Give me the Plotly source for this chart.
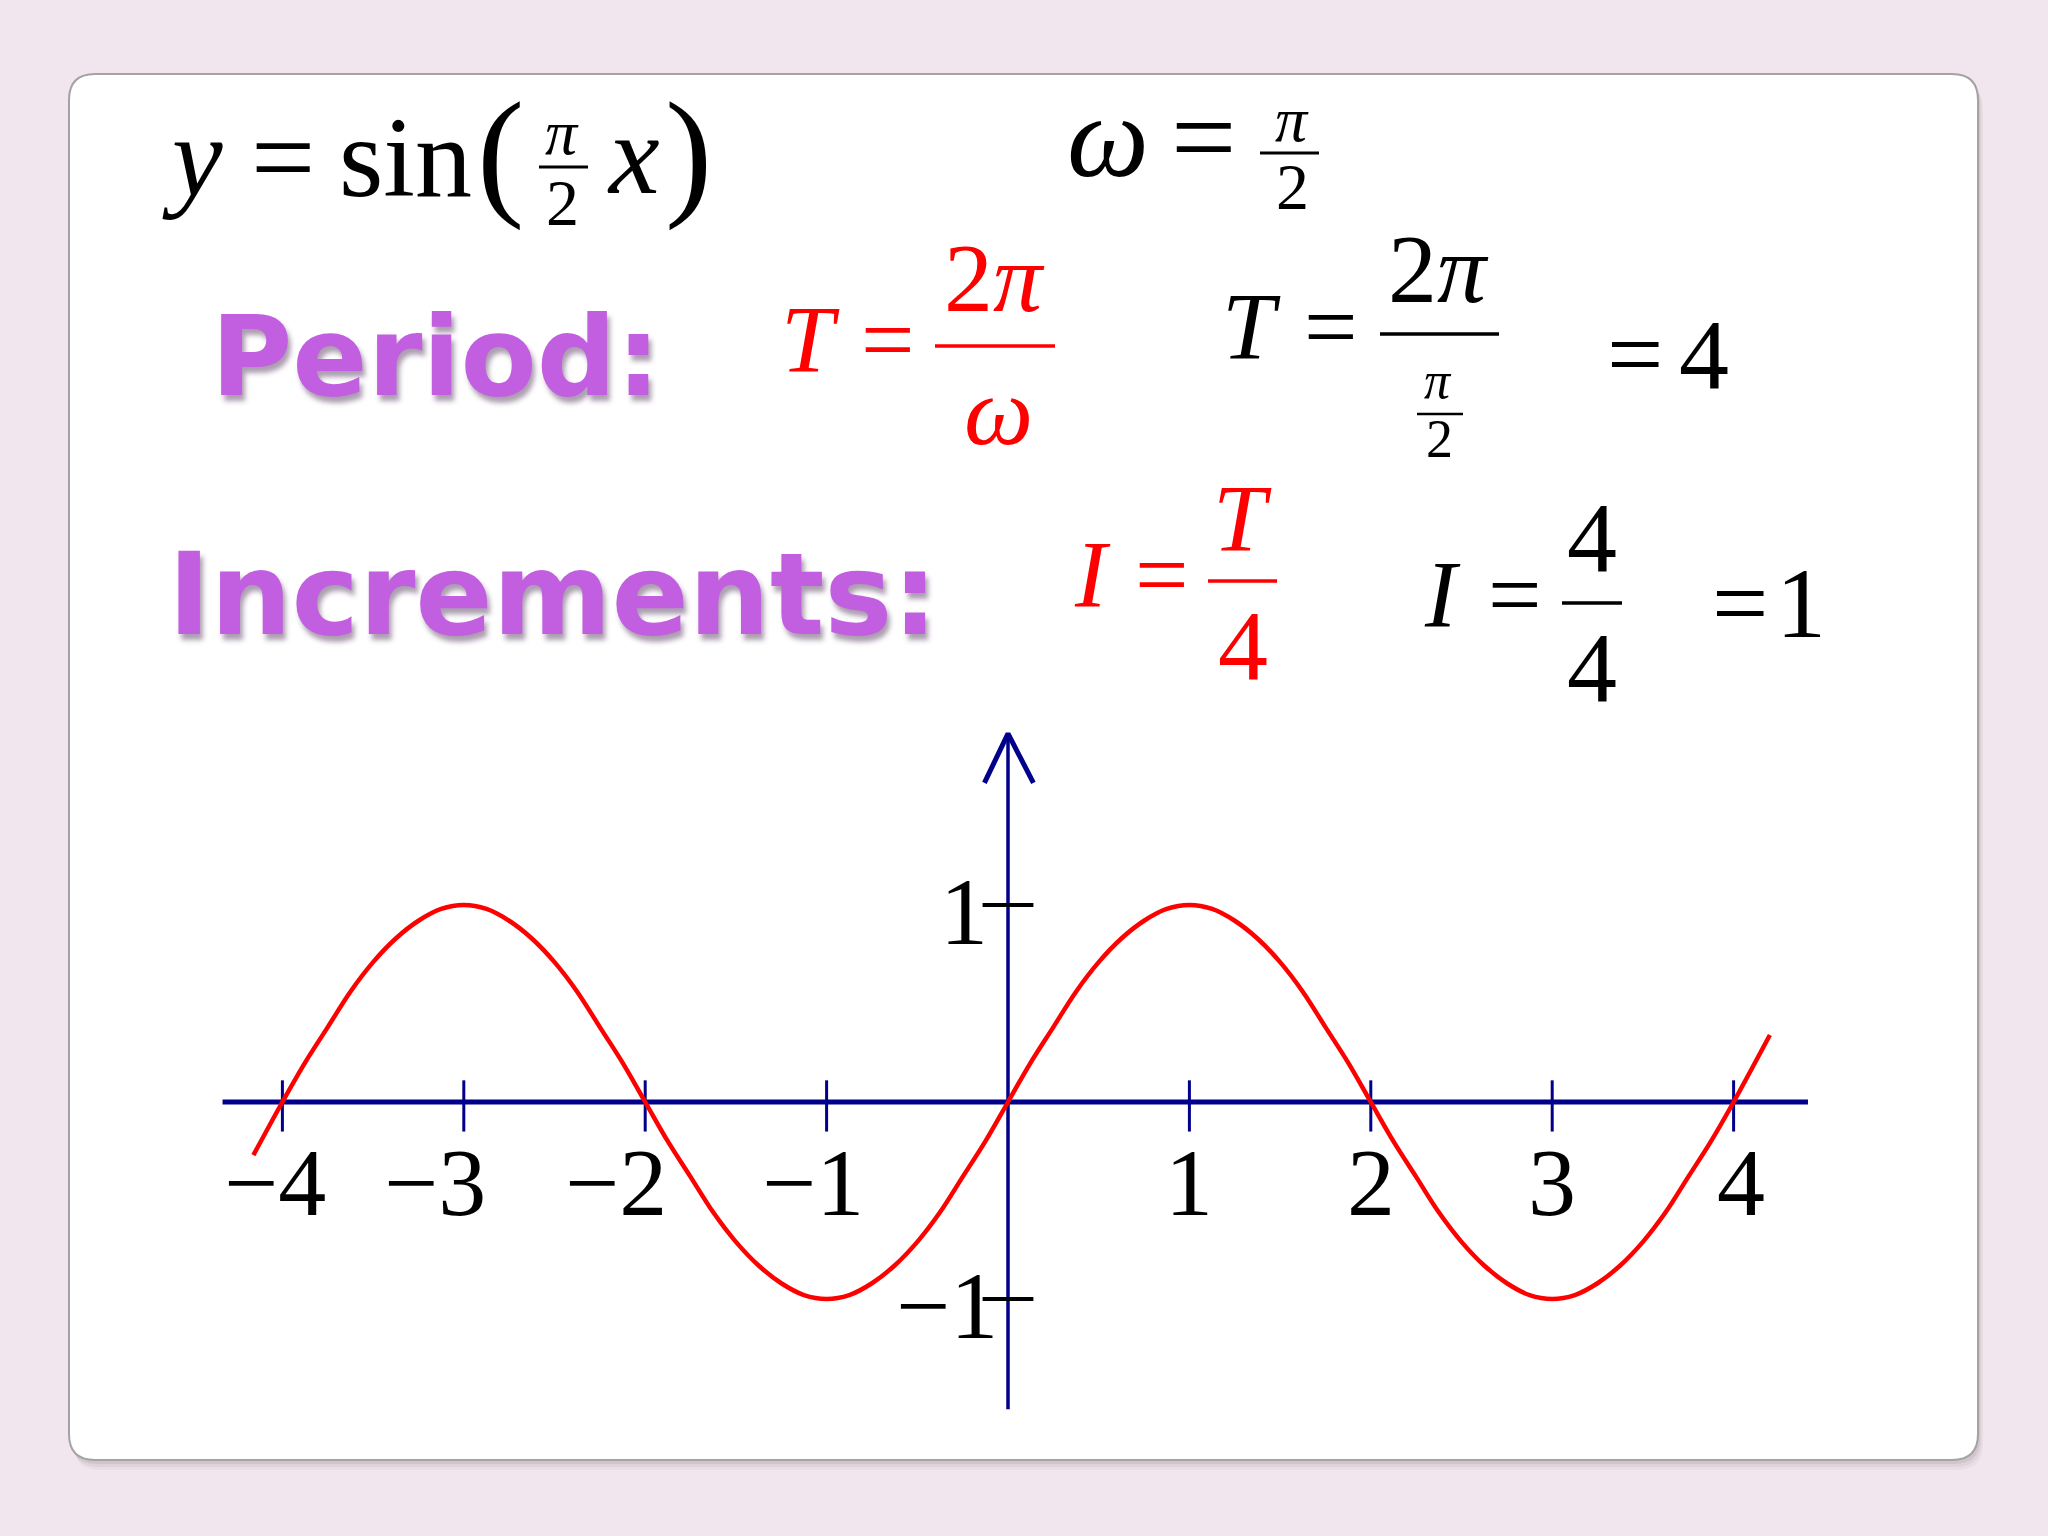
import plotly.graph_objects as go

W, H = 2048, 1536
SERIF = "Liberation Serif"
BOLD_SANS = "DejaVu Sans"
NAVY = "#00008b"
RED = "#ff0000"
PURPLE = "#c15fe0"

# points of y = sin(pi/2 x)
curve_x = [-4.16, -4.0, -3.875, -3.75, -3.625, -3.5, -3.375, -3.25, -3.125, -3.0,
           -2.875, -2.75, -2.625, -2.5, -2.375, -2.25, -2.125, -2.0,
           -1.875, -1.75, -1.625, -1.5, -1.375, -1.25, -1.125, -1.0,
           -0.875, -0.75, -0.625, -0.5, -0.375, -0.25, -0.125, 0.0,
           0.125, 0.25, 0.375, 0.5, 0.625, 0.75, 0.875, 1.0,
           1.125, 1.25, 1.375, 1.5, 1.625, 1.75, 1.875, 2.0,
           2.125, 2.25, 2.375, 2.5, 2.625, 2.75, 2.875, 3.0,
           3.125, 3.25, 3.375, 3.5, 3.625, 3.75, 3.875, 4.0, 4.2]
curve_y = [-0.27, 0.0, 0.2, 0.38, 0.56, 0.71, 0.83, 0.92, 0.98, 1.0,
           0.98, 0.92, 0.83, 0.71, 0.56, 0.38, 0.2, 0.0,
           -0.2, -0.38, -0.56, -0.71, -0.83, -0.92, -0.98, -1.0,
           -0.98, -0.92, -0.83, -0.71, -0.56, -0.38, -0.2, 0.0,
           0.2, 0.38, 0.56, 0.71, 0.83, 0.92, 0.98, 1.0,
           0.98, 0.92, 0.83, 0.71, 0.56, 0.38, 0.2, 0.0,
           -0.2, -0.38, -0.56, -0.71, -0.83, -0.92, -0.98, -1.0,
           -0.98, -0.92, -0.83, -0.71, -0.56, -0.38, -0.2, 0.0, 0.34]

x_ticks = [-4, -3, -2, -1, 1, 2, 3, 4]
x_tick_labels = ["−4", "−3", "−2", "−1", "1", "2", "3", "4"]
y_ticks = [-1, 1]
y_tick_labels = ["−1", "1"]

x_axis_span = [-4.33, 4.41]
y_axis_span = [-1.56, 1.87]
arrow_x = [-0.13, 0.0, 0.14]
arrow_y = [1.62, 1.87, 1.62]


def px(x):
    return x / W


def py(y):
    return 1 - y / H


def txt(s, x, base, size, color="black", family=SERIF, anchor="center", **kw):
    # x = centre (or left edge) in pixels, base = baseline in pixels
    font = dict(size=size, color=color, family=family)
    font.update(kw)
    return dict(text=s, x=px(x), y=py(base - 0.34 * size), xref="paper", yref="paper",
                xanchor=anchor, yanchor="middle", showarrow=False, font=font)


def bar(x0, x1, y, color="black", w=3):
    return dict(type="line", xref="paper", yref="paper", x0=px(x0), x1=px(x1),
                y0=py(y), y1=py(y), line=dict(color=color, width=w))


def rounded(x0, y0, x1, y1, r):
    d = f"M{px(x0 + r)},{py(y0)} L{px(x1 - r)},{py(y0)} Q{px(x1)},{py(y0)} {px(x1)},{py(y0 + r)} "
    d += f"L{px(x1)},{py(y1 - r)} Q{px(x1)},{py(y1)} {px(x1 - r)},{py(y1)} "
    d += f"L{px(x0 + r)},{py(y1)} Q{px(x0)},{py(y1)} {px(x0)},{py(y1 - r)} "
    d += f"L{px(x0)},{py(y0 + r)} Q{px(x0)},{py(y0)} {px(x0 + r)},{py(y0)} Z"
    return d


fig = go.Figure()

# axes
fig.add_trace(go.Scatter(x=x_axis_span, y=[0, 0], mode="lines",
                         line=dict(color=NAVY, width=5)))
fig.add_trace(go.Scatter(x=[0, 0], y=y_axis_span, mode="lines",
                         line=dict(color=NAVY, width=3.5)))
fig.add_trace(go.Scatter(x=arrow_x, y=arrow_y, mode="lines",
                         line=dict(color=NAVY, width=5)))

tx, ty = [], []
for t in x_ticks:
    tx += [t, t, None]
    ty += [0.11, -0.15, None]
fig.add_trace(go.Scatter(x=tx, y=ty, mode="lines", line=dict(color=NAVY, width=3)))

yx, yy = [], []
for t in y_ticks:
    yx += [-0.14, 0.14, None]
    yy += [t, t, None]
fig.add_trace(go.Scatter(x=yx, y=yy, mode="lines", line=dict(color="black", width=4)))

# the sine curve
fig.add_trace(go.Scatter(x=curve_x, y=curve_y, mode="lines",
                         line=dict(color=RED, width=4.5, shape="spline")))

ann = []
# digit of each x label sits a little off the tick on the slide
label_nudge = {-4: 22, -1: 15, 4: 7}
for t, lab in zip(x_ticks, x_tick_labels):
    ann.append(dict(text=lab, x=t, y=0, xref="x", yref="y",
                    xanchor="right" if t < 0 else "center",
                    xshift=(24 if t < 0 else 0) + label_nudge.get(t, 0),
                    yanchor="middle", yshift=-80, showarrow=False,
                    font=dict(size=96, color="black", family=SERIF)))
for t, lab in zip(y_ticks, y_tick_labels):
    ann.append(dict(text=lab, x=0, y=t, xref="x", yref="y",
                    xanchor="right", xshift=-18 if t > 0 else -8,
                    yanchor="middle", yshift=-6, showarrow=False,
                    font=dict(size=96, color="black", family=SERIF)))

# y = sin(pi/2 x)
ann += [
    txt("<i>y</i>", 192, 196, 114),
    txt("=", 283, 196, 114),
    txt("sin", 405, 196, 114),
    txt("(", 500, 200, 142),
    txt("<i>π</i>", 562, 154, 64),
    txt("2", 562, 225, 66),
    txt("<i>x</i>", 633, 193, 114),
    txt(")", 688, 200, 142),
]
# omega = pi/2
ann += [
    txt("<i>ω</i>", 1108, 176, 116),
    txt("=", 1203, 176, 116),
    txt("<i>π</i>", 1292, 141, 64),
    txt("2", 1292, 209, 66),
]

# WordArt-ish headings
shadow = "3px 6px 5px rgba(70,40,80,0.45)"
ann.append(txt("<b>Period:</b>", 209, 394, 111, PURPLE, BOLD_SANS, "left", shadow=shadow))
ann.append(txt("<b>Increments:</b>", 166, 633, 114, PURPLE, BOLD_SANS, "left", shadow=shadow))

# T = 2pi / omega (red)
ann += [
    txt("<i>T</i>", 810, 372, 95, RED),
    txt("=", 888, 372, 95, RED),
    txt("2<i>π</i>", 994, 311, 98, RED),
    txt("<i>ω</i>", 998, 444, 98, RED),
]
# T = 2pi / (pi/2) = 4
ann += [
    txt("<i>T</i>", 1251, 359, 95),
    txt("=", 1331, 359, 95),
    txt("2<i>π</i>", 1438, 302, 98),
    txt("<i>π</i>", 1438, 398, 52),
    txt("2", 1439, 457, 54),
    txt("=", 1635, 388, 100),
    txt("4", 1704, 388, 100),
]
# I = T / 4 (red)
ann += [
    txt("<i>I</i>", 1092, 607, 95, RED),
    txt("=", 1162, 607, 95, RED),
    txt("<i>T</i>", 1242, 551, 95, RED),
    txt("4", 1243, 679, 100, RED),
]
# I = 4 / 4 = 1
ann += [
    txt("<i>I</i>", 1442, 627, 95),
    txt("=", 1515, 627, 95),
    txt("4", 1592, 571, 100),
    txt("4", 1592, 701, 100),
    txt("=", 1740, 637, 100),
    txt("1", 1801, 637, 100),
]

shapes = []
# card shadow + card
for off, op in [(10, 0.05), (7, 0.07), (4, 0.10)]:
    shapes.append(dict(type="path", xref="paper", yref="paper", layer="below",
                       path=rounded(69 + off * 0.5, 74 + off, 1978 + off * 0.5, 1460 + off, 26),
                       fillcolor=f"rgba(90,70,80,{op})", line=dict(width=0)))
shapes.append(dict(type="path", xref="paper", yref="paper", layer="below",
                   path=rounded(69, 74, 1978, 1460, 26), fillcolor="white",
                   line=dict(color="#a3a3a3", width=2)))

shapes += [
    bar(539, 588, 167, "black", 3),
    bar(1260, 1319, 153, "black", 3),
    bar(935, 1055, 346, RED, 3.5),
    bar(1380, 1499, 334, "black", 3.5),
    bar(1417, 1463, 414, "black", 2.5),
    bar(1208, 1277, 581, RED, 3.5),
    bar(1562, 1622, 603, "black", 3.5),
]

fig.update_layout(
    width=W, height=H,
    margin=dict(l=0, r=0, t=0, b=0),
    paper_bgcolor="#f2e6ee",
    plot_bgcolor="rgba(0,0,0,0)",
    showlegend=False,
    xaxis=dict(range=[-1008 / 181.4, 1040 / 181.4], visible=False, domain=[0, 1]),
    yaxis=dict(range=[-434 / 197, 1102 / 197], visible=False, domain=[0, 1]),
    annotations=ann,
    shapes=shapes,
)

fig.write_html("out.html", config={"displayModeBar": False},
               post_script="document.body.style.margin='0';")
